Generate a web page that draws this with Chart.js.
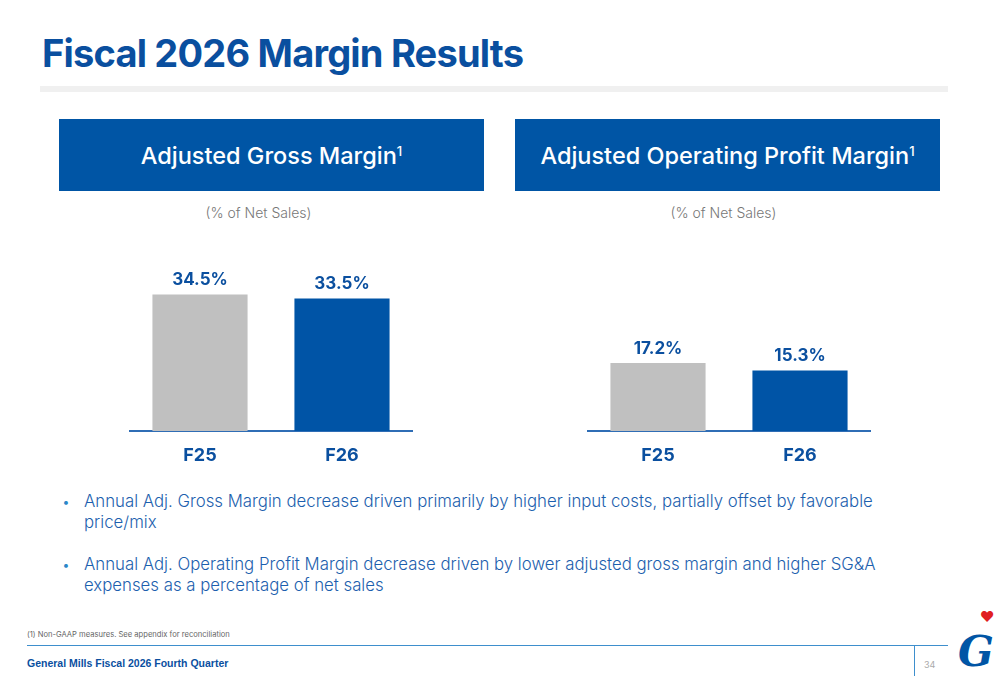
<!DOCTYPE html>
<html>
<head>
<meta charset="utf-8">
<script src="https://cdn.jsdelivr.net/npm/chart.js@4"></script>
<style>
  html, body { margin: 0; padding: 0; background: #fff; }
  body { width: 1000px; height: 685px; position: relative; overflow: hidden; font-family: "Inter", "Lato", sans-serif; }
  .abs { position: absolute; }
  #title { left: 42px; top: 30px; font-size: 38px; font-weight: 700; color: #0a4f9f; letter-spacing: -0.8px; }
  #rule { left: 40px; top: 86px; width: 908px; height: 6px; background: #f0f0f0; }
  .head { top: 119px; width: 425px; height: 72px; background: #0055a5; color: #fff; font-size: 23.5px; font-weight: 500;
          display: flex; align-items: center; justify-content: center; }
  .head sup { font-size: 13px; position: relative; top: -4px; }
  .sub { top: 204px; width: 425px; text-align: center; font-size: 14px; color: #777; font-weight: 300; }
  .chartbox { top: 240px; width: 284px; height: 235px; }
  .bullet { left: 62px; color: #1d5fae; font-size: 16.8px; font-weight: 300; line-height: 21px; }
  .bullet span.dot { position: absolute; left: 0; top: 0; font-size: 14px; color: #2a86c8; }
  .bullet div { margin-left: 22px; }
  #foot1 { left: 27px; top: 630px; font-size: 7.6px; color: #666; }
  #footline { left: 27px; top: 645px; width: 921px; height: 1px; background: #3e8fcd; }
  #vline { left: 914px; top: 645px; width: 1px; height: 31px; background: #3e8fcd; }
  #foot2 { left: 27px; top: 657px; font-family: "Liberation Sans Narrow", "Liberation Sans", sans-serif; font-size: 10.5px; font-weight: 700; color: #0a4f9f; }
  #page { left: 924px; top: 659px; font-size: 9px; color: #aaa; }
  #logo { left: 958px; top: 631px; font-family: "DejaVu Serif", serif; font-style: italic; font-weight: 700; font-size: 42px; color: #0055a5; line-height: 1; }
  #heart { left: 980px; top: 610px; color: #e02020; font-size: 14px; line-height: 1; }
</style>
</head>
<body>
<div id="title" class="abs">Fiscal 2026 Margin Results</div>
<div id="rule" class="abs"></div>

<div class="abs head" style="left:59px">Adjusted Gross Margin<sup>1</sup></div>
<div class="abs head" style="left:515px">Adjusted Operating Profit Margin<sup>1</sup></div>
<div class="abs sub" style="left:46px">(% of Net Sales)</div>
<div class="abs sub" style="left:511px">(% of Net Sales)</div>

<div class="abs chartbox" style="left:129px"><canvas id="gross"></canvas></div>
<div class="abs chartbox" style="left:587px"><canvas id="op"></canvas></div>

<div class="abs bullet" style="top:491px"><span class="dot">•</span><div>Annual Adj. Gross Margin decrease driven primarily by higher input costs, partially offset by favorable<br>price/mix</div></div>
<div class="abs bullet" style="top:554px"><span class="dot">•</span><div>Annual Adj. Operating Profit Margin decrease driven by lower adjusted gross margin and higher SG&amp;A<br>expenses as a percentage of net sales</div></div>

<div id="foot1" class="abs">(1) Non-GAAP measures. See appendix for reconciliation</div>
<div id="footline" class="abs"></div>
<div id="vline" class="abs"></div>
<div id="foot2" class="abs">General Mills Fiscal 2026 Fourth Quarter</div>
<div id="page" class="abs">34</div>
<div id="logo" class="abs">G</div>
<div id="heart" class="abs">♥</div>

<script>
const years = ['F25', 'F26'];
const grossMargin = [34.5, 33.5];
const opMargin = [17.2, 15.3];
const barColors = ['#c0c0c0', '#0054a6'];
const yMax = 45;

// draws the "xx.x%" labels above each bar
const valueLabels = {
  id: 'valueLabels',
  afterDatasetsDraw(chart) {
    const {ctx} = chart;
    const meta = chart.getDatasetMeta(0);
    ctx.save();
    ctx.fillStyle = '#0a4f9f';
    ctx.font = '700 17px Inter, Lato, sans-serif';
    ctx.textAlign = 'center';
    ctx.textBaseline = 'bottom';
    meta.data.forEach((bar, i) => {
      const v = chart.data.datasets[0].data[i];
      ctx.fillText(v.toFixed(1) + '%', bar.x, bar.y - 6);
    });
    ctx.restore();
  }
};

function makeChart(id, values) {
  new Chart(document.getElementById(id), {
    type: 'bar',
    data: {
      labels: years,
      datasets: [{
        data: values,
        backgroundColor: barColors,
        barPercentage: 0.67,
        categoryPercentage: 1.0
      }]
    },
    options: {
      responsive: true,
      maintainAspectRatio: false,
      animation: false,
      layout: { padding: { top: 13, left: 0, right: 0, bottom: 0 } },
      plugins: { legend: { display: false }, tooltip: { enabled: false } },
      scales: {
        x: {
          grid: { display: false, drawTicks: false },
          border: { display: true, color: '#2f6db5', width: 2 },
          ticks: { color: '#0a4f9f', font: { family: 'Inter, Lato, sans-serif', size: 18, weight: '700' }, padding: 14 },
          afterFit: s => { s.height = 44; }
        },
        y: { display: false, min: 0, max: yMax }
      }
    },
    plugins: [valueLabels]
  });
}

makeChart('gross', grossMargin);
makeChart('op', opMargin);
</script>
</body>
</html>
